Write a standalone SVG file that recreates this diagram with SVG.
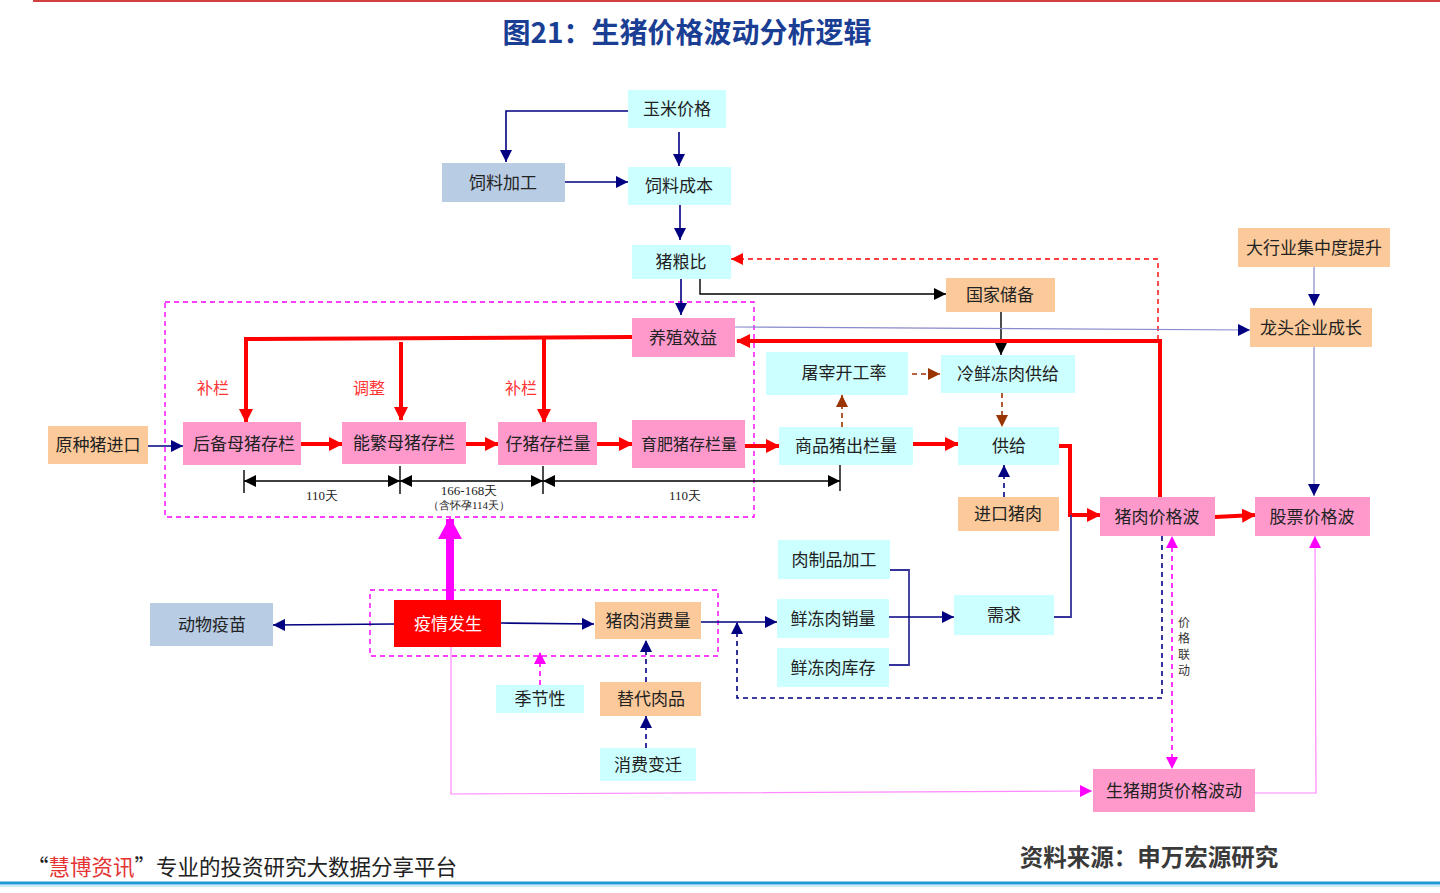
<svg xmlns="http://www.w3.org/2000/svg" width="1440" height="893" viewBox="0 0 1440 893">
<style>
text{font-family:"Noto Sans CJK SC","Liberation Serif",serif;}
.t{font-size:17px;fill:#222;text-anchor:middle;}
.cy{fill:#ccffff;}
.pk{fill:#ff99cc;}
.or{fill:#fcca9a;}
.bg{fill:#b8cce4;}
.nv{stroke:#000080;stroke-width:1.6;fill:none;}
.rd{stroke:#ff0000;stroke-width:4;fill:none;}
.lbl{font-size:16px;fill:#ff3333;text-anchor:middle;}
.dim{font-family:"Liberation Serif",serif;font-size:13px;fill:#222;text-anchor:middle;}
</style>
<defs>
<marker id="an" markerUnits="userSpaceOnUse" markerWidth="12" markerHeight="12" refX="12" refY="6" orient="auto"><path d="M0,0L12,6L0,12z" fill="#000080"/></marker>
<marker id="ab" markerUnits="userSpaceOnUse" markerWidth="12" markerHeight="12" refX="12" refY="6" orient="auto"><path d="M0,0L12,6L0,12z" fill="#000"/></marker>
<marker id="ar" markerUnits="userSpaceOnUse" markerWidth="14" markerHeight="14" refX="13" refY="7" orient="auto"><path d="M0,0L14,7L0,14z" fill="#ff0000"/></marker>
<marker id="ard" markerUnits="userSpaceOnUse" markerWidth="12" markerHeight="12" refX="12" refY="6" orient="auto"><path d="M0,0L12,6L0,12z" fill="#ff0000"/></marker>
<marker id="abr" markerUnits="userSpaceOnUse" markerWidth="12" markerHeight="12" refX="12" refY="6" orient="auto"><path d="M0,0L12,6L0,12z" fill="#993300"/></marker>
<marker id="am" markerUnits="userSpaceOnUse" markerWidth="12" markerHeight="12" refX="12" refY="6" orient="auto"><path d="M0,0L12,6L0,12z" fill="#ff00ff"/></marker>
<marker id="amb" markerUnits="userSpaceOnUse" markerWidth="22" markerHeight="24" refX="20" refY="12" orient="auto"><path d="M0,0L22,12L0,24z" fill="#ff00ff"/></marker>
<marker id="ad" markerUnits="userSpaceOnUse" markerWidth="12" markerHeight="12" refX="12" refY="6" orient="auto-start-reverse"><path d="M0,0L12,6L0,12z" fill="#000"/></marker>
</defs>
<rect x="0" y="0" width="1440" height="893" fill="#fff"/>
<line x1="33" y1="1" x2="1440" y2="1" stroke="#c00000" stroke-width="1.5"/>
<text x="687" y="43" style="font-family:'Noto Sans CJK SC','Liberation Sans',sans-serif;font-size:28px;font-weight:bold;fill:#1a3e94;text-anchor:middle">图21：生猪价格波动分析逻辑</text>

<g id="frames" fill="none" stroke="#ff00ff" stroke-width="1.4" stroke-dasharray="5,4">
<rect x="165" y="302" width="589" height="215"/>
<rect x="370" y="590" width="348" height="66"/>
</g>

<g id="connectors">
<path class="nv" d="M628,111H506V162" marker-end="url(#an)"/>
<path class="nv" d="M679,132V166" marker-end="url(#an)"/>
<path class="nv" d="M565,182H628" marker-end="url(#an)"/>
<path class="nv" d="M680,205V240" marker-end="url(#an)"/>
<path class="nv" d="M681,279V315" marker-end="url(#an)"/>
<path d="M700,279V294H946" stroke="#000" stroke-width="1.4" fill="none" marker-end="url(#ab)"/>
<path d="M1001,312V355" stroke="#000" stroke-width="1.4" fill="none" marker-end="url(#ab)"/>
<path d="M1158,340V259H731" stroke="#ff0000" stroke-width="1.4" stroke-dasharray="5,4" fill="none" marker-end="url(#ard)"/>
<path class="rd" d="M1160,497V341H737" marker-end="url(#ar)"/>
<path d="M735,327L1250,330" stroke="#8888cc" stroke-width="1.2" fill="none" marker-end="url(#an)"/>
<path d="M1314,267V306" stroke="#8888cc" stroke-width="1.2" fill="none" marker-end="url(#an)"/>
<path d="M1314,347V496" stroke="#8888cc" stroke-width="1.2" fill="none" marker-end="url(#an)"/>
<path class="rd" d="M632,337L246,339V422" marker-end="url(#ar)"/>
<path class="rd" d="M401,342V420" marker-end="url(#ar)"/>
<path class="rd" d="M544,338V422" marker-end="url(#ar)"/>
<path class="rd" d="M301,444H342" marker-end="url(#ar)"/>
<path class="rd" d="M466,444H498" marker-end="url(#ar)"/>
<path class="rd" d="M597,444H632" marker-end="url(#ar)"/>
<path class="rd" d="M745,446H779" marker-end="url(#ar)"/>
<path class="rd" d="M913,444H958" marker-end="url(#ar)"/>
<path class="rd" d="M1059,446H1070V515H1100" marker-end="url(#ar)"/>
<path class="rd" d="M1215,517L1255,515" marker-end="url(#ar)"/>
<path class="nv" d="M148,446H183" marker-end="url(#an)"/>
<g stroke="#000" stroke-width="1.4" fill="none">
<path d="M244,470V493M400,466V494M543,466V494M840,463V491"/>
<path d="M244,481H400" marker-start="url(#ad)" marker-end="url(#ad)"/>
<path d="M400,481H543" marker-start="url(#ad)" marker-end="url(#ad)"/>
<path d="M543,481H840" marker-start="url(#ad)" marker-end="url(#ad)"/>
</g>
<g stroke="#993300" stroke-width="1.6" stroke-dasharray="5,4" fill="none">
<path d="M912,374H940" marker-end="url(#abr)"/>
<path d="M842,427V395" marker-end="url(#abr)"/>
<path d="M1002,393V427" marker-end="url(#abr)"/>
</g>
<path d="M1004,497V465" stroke="#000080" stroke-width="1.6" stroke-dasharray="5,4" fill="none" marker-end="url(#an)"/>
<path d="M450,600V519" stroke="#ff00ff" stroke-width="8" fill="none" marker-end="url(#amb)"/>
<path class="nv" d="M394,624L273,625" marker-end="url(#an)"/>
<path class="nv" d="M501,623L594,624" marker-end="url(#an)"/>
<path class="nv" d="M701,622H777" marker-end="url(#an)"/>
<path d="M1162,536V698H737V622" stroke="#000080" stroke-width="1.6" stroke-dasharray="5,4" fill="none" marker-end="url(#an)"/>
<g stroke="#333399" stroke-width="1.8" fill="none">
<path d="M890,570H909V665H889"/>
<path d="M1054,617H1071V515"/>
</g>
<path d="M889,617H954" stroke="#000080" stroke-width="1.6" fill="none" marker-end="url(#an)"/>
<path d="M1172,547V758" stroke="#ff00ff" stroke-width="1.6" stroke-dasharray="5,4" fill="none"/>
<path d="M1172,536l-6,12h12z M1172,769l-6,-12h12z" fill="#ff00ff"/>
<path d="M540,685V652" stroke="#ff00ff" stroke-width="1.6" stroke-dasharray="5,4" fill="none" marker-end="url(#am)"/>
<path d="M646,682V640" stroke="#000080" stroke-width="1.6" stroke-dasharray="5,4" fill="none" marker-end="url(#an)"/>
<path d="M646,748V716" stroke="#000080" stroke-width="1.6" stroke-dasharray="5,4" fill="none" marker-end="url(#an)"/>
<path d="M451,647V794L1092,791" stroke="#ff88ff" stroke-width="1.2" fill="none" marker-end="url(#am)"/>
<path d="M1255,793H1316L1315,536" stroke="#ff88ff" stroke-width="1.2" fill="none" marker-end="url(#am)"/>
</g>

<g id="labels">
<text class="lbl" x="213" y="394">补栏</text>
<text class="lbl" x="369" y="394">调整</text>
<text class="lbl" x="521" y="394">补栏</text>
<text class="dim" x="322" y="500">110天</text>
<text class="dim" x="469" y="495">166-168天</text>
<text class="dim" x="469" y="509" style="font-size:11px">（含怀孕114天）</text>
<text class="dim" x="685" y="500">110天</text>
<text style="font-size:12px;fill:#333" x="1178" y="627">价</text>
<text style="font-size:12px;fill:#333" x="1178" y="643">格</text>
<text style="font-size:12px;fill:#333" x="1178" y="659">联</text>
<text style="font-size:12px;fill:#333" x="1178" y="675">动</text>
</g>

<g id="n-yumi"><rect class="cy" x="628" y="90" width="98" height="38"/><text class="t" x="677" y="115">玉米价格</text></g>
<g id="n-siliaojiagong"><rect class="bg" x="442" y="163" width="123" height="39"/><text class="t" x="503" y="189">饲料加工</text></g>
<g id="n-siliaochengben"><rect class="cy" x="628" y="167" width="103" height="38"/><text class="t" x="679" y="192">饲料成本</text></g>
<g id="n-zhuliangbi"><rect class="cy" x="632" y="245" width="99" height="34"/><text class="t" x="681" y="268">猪粮比</text></g>
<g id="n-guojiachubei"><rect class="or" x="946" y="278" width="109" height="34"/><text class="t" x="1000" y="301">国家储备</text></g>
<g id="n-jizhongdu"><rect class="or" x="1238" y="228" width="152" height="39"/><text class="t" x="1314" y="254">大行业集中度提升</text></g>
<g id="n-longtou"><rect class="or" x="1250" y="308" width="122" height="39"/><text class="t" x="1311" y="334">龙头企业成长</text></g>
<g id="n-yangzhi"><rect class="pk" x="632" y="318" width="103" height="39"/><text class="t" x="683" y="344">养殖效益</text></g>
<g id="n-tuzai"><rect class="cy" x="766" y="352" width="142" height="43"/><text class="t" x="844" y="379">屠宰开工率</text></g>
<g id="n-lengxian"><rect class="cy" x="941" y="355" width="134" height="38"/><text class="t" x="1008" y="380">冷鲜冻肉供给</text></g>
<g id="n-yuanzhong"><rect class="or" x="48" y="426" width="100" height="38"/><text class="t" x="98" y="451">原种猪进口</text></g>
<g id="n-houbei"><rect class="pk" x="183" y="422" width="118" height="43"/><text class="t" x="244" y="450">后备母猪存栏</text></g>
<g id="n-nengfan"><rect class="pk" x="342" y="422" width="124" height="42"/><text class="t" x="404" y="449">能繁母猪存栏</text></g>
<g id="n-zizhu"><rect class="pk" x="498" y="422" width="99" height="43"/><text class="t" x="548" y="450">仔猪存栏量</text></g>
<g id="n-yufei"><rect class="pk" x="632" y="420" width="113" height="48"/><text class="t" x="689" y="450" style="font-size:16px">育肥猪存栏量</text></g>
<g id="n-shangpin"><rect class="cy" x="779" y="427" width="134" height="38"/><text class="t" x="846" y="452">商品猪出栏量</text></g>
<g id="n-gongji"><rect class="cy" x="958" y="427" width="101" height="38"/><text class="t" x="1009" y="452">供给</text></g>
<g id="n-jinkou"><rect class="or" x="958" y="497" width="101" height="34"/><text class="t" x="1008" y="520">进口猪肉</text></g>
<g id="n-zhurou"><rect class="pk" x="1100" y="497" width="115" height="39"/><text class="t" x="1157" y="523">猪肉价格波</text></g>
<g id="n-gupiao"><rect class="pk" x="1255" y="497" width="115" height="39"/><text class="t" x="1312" y="523">股票价格波</text></g>
<g id="n-zhipin"><rect class="cy" x="778" y="540" width="112" height="39"/><text class="t" x="834" y="566">肉制品加工</text></g>
<g id="n-xiaoliang"><rect class="cy" x="777" y="599" width="112" height="39"/><text class="t" x="833" y="625">鲜冻肉销量</text></g>
<g id="n-kucun"><rect class="cy" x="777" y="648" width="112" height="39"/><text class="t" x="833" y="674">鲜冻肉库存</text></g>
<g id="n-xuqiu"><rect class="cy" x="954" y="595" width="100" height="40"/><text class="t" x="1004" y="621">需求</text></g>
<g id="n-yimiao"><rect class="bg" x="150" y="603" width="123" height="43"/><text class="t" x="212" y="631">动物疫苗</text></g>
<g id="n-yiqing"><rect fill="#ff0000" x="394" y="600" width="107" height="47"/><text class="t" x="448" y="630" style="fill:#fff">疫情发生</text></g>
<g id="n-xiaofeiliang"><rect class="or" x="595" y="602" width="106" height="37"/><text class="t" x="648" y="627">猪肉消费量</text></g>
<g id="n-jijie"><rect class="cy" x="496" y="685" width="88" height="28"/><text class="t" x="540" y="705">季节性</text></g>
<g id="n-tidai"><rect class="or" x="600" y="682" width="101" height="34"/><text class="t" x="651" y="705">替代肉品</text></g>
<g id="n-bianqian"><rect class="cy" x="600" y="748" width="96" height="33"/><text class="t" x="648" y="771">消费变迁</text></g>
<g id="n-qihuo"><rect class="pk" x="1093" y="769" width="162" height="43"/><text class="t" x="1174" y="797">生猪期货价格波动</text></g>

<g id="footer">
<text x="27" y="875" style="font-family:'Noto Sans CJK SC','Liberation Sans',sans-serif;font-size:21.5px;fill:#222"><tspan>“</tspan><tspan fill="#e53333">慧博资讯</tspan><tspan>”专业的投资研究大数据分享平台</tspan></text>
<text x="1149" y="866" style="font-family:'Noto Sans CJK SC','Liberation Sans',sans-serif;font-size:23.5px;font-weight:bold;fill:#3a3a3a;text-anchor:middle">资料来源：申万宏源研究</text>
<line x1="0" y1="883" x2="1440" y2="883" stroke="#1a9ad6" stroke-width="3"/>
<line x1="0" y1="886" x2="1440" y2="886" stroke="#bfe3f5" stroke-width="1.5"/>
</g>
</svg>
